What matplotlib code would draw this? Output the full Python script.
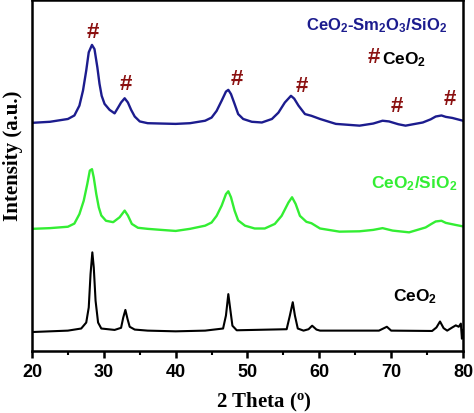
import matplotlib
matplotlib.use("Agg")
import matplotlib.pyplot as plt
from matplotlib.ticker import MultipleLocator

# points (2 theta, intensity in arbitrary units)
blue_x = [20.0, 22.5, 25.0, 25.9, 26.6, 27.1, 27.55, 27.9, 28.35, 28.7, 29.1, 29.4, 29.7, 30.1,
          30.8, 31.5, 32.0, 32.4, 32.9, 33.35, 33.8, 34.3, 35.0, 36.1, 38.0, 40.0, 42.0,
          44.1, 45.0, 45.7, 46.4, 47.0, 47.33, 47.7, 48.2, 48.7, 49.4, 50.6, 52.0, 53.4, 54.3,
          55.2, 56.05, 56.5, 57.1, 58.0, 58.9, 60.1, 62.3, 65.6, 67.5, 68.8, 69.7, 71.0, 72.0,
          74.4, 75.5, 76.2, 77.0, 77.6, 78.5, 80.0]
blue_y = [65.0, 65.3, 66.1, 67.1, 69.9, 74.2, 79.9, 85.1, 87.2, 86.0, 80.8, 76.1, 72.7, 70.4,
          68.7, 67.7, 69.4, 70.8, 72.0, 70.8, 68.7, 66.8, 65.4, 64.9, 64.8, 64.7, 64.9,
          65.6, 66.5, 68.4, 71.3, 73.9, 74.4, 73.2, 70.4, 67.5, 66.1, 65.3, 65.1, 66.1, 67.9,
          70.8, 72.7, 71.9, 69.9, 67.5, 67.0, 66.1, 64.7, 64.2, 64.8, 65.6, 65.4, 64.6, 64.2,
          65.1, 66.0, 66.8, 67.1, 66.7, 66.4, 65.6]

green_x = [20.0, 22.5, 25.0, 25.9, 26.6, 27.2, 27.7, 28.05, 28.35, 28.6, 28.95, 29.3, 29.65, 30.3,
           31.3, 32.2, 32.9, 33.35, 33.9, 34.75, 36.1, 38.0, 40.0, 42.0,
           44.1, 45.0, 45.7, 46.4, 47.0, 47.33, 47.7, 48.2, 48.7, 49.65, 51.0, 52.4, 53.8, 54.75,
           55.7, 56.2, 56.7, 57.3, 58.2, 58.9, 60.1, 62.8, 65.6, 67.5, 68.8, 70.2, 72.5, 74.8,
           75.6, 76.2, 77.0, 77.6, 79.0, 80.0]
green_y = [34.8, 35.0, 35.4, 36.3, 39.0, 42.8, 47.6, 51.4, 51.8, 49.4, 44.7, 40.9, 38.6, 37.1,
           36.7, 38.1, 40.0, 38.6, 36.2, 35.1, 34.8, 34.5, 34.2, 34.8,
           35.7, 36.6, 38.5, 41.4, 44.7, 45.5, 43.8, 40.0, 37.2, 35.7, 34.9, 34.9, 36.2, 38.5,
           42.3, 43.8, 41.9, 38.5, 36.8, 36.4, 34.9, 34.0, 34.1, 34.5, 35.0, 34.3, 33.8, 35.2,
           36.2, 36.9, 37.1, 36.5, 35.9, 35.5]

black_x = [20.0, 25.0, 26.85, 27.55, 27.9, 28.15, 28.4, 28.6, 28.85, 29.2, 29.65, 31.5, 32.4, 32.7,
           33.0, 33.3, 33.6, 34.3, 36.1, 40.0, 44.1, 46.6, 47.0, 47.33, 47.6, 47.9, 48.5,
           55.45, 55.9, 56.3, 56.6, 57.0, 57.8, 58.5, 59.0, 59.6, 60.1, 68.3, 68.9, 69.4, 70.0,
           75.7, 76.3, 76.8, 77.3, 77.8, 78.5, 79.0, 79.4, 79.7, 79.85, 80.0]
black_y = [5.4, 5.8, 6.4, 8.1, 12.4, 21.9, 28.1, 23.8, 14.3, 8.1, 6.4, 6.0, 6.6, 9.5,
           11.7, 9.1, 6.9, 6.1, 5.8, 5.6, 5.8, 6.4, 10.1, 16.2, 11.9, 7.2, 5.9,
           6.2, 10.1, 13.9, 10.1, 6.4, 5.8, 6.2, 7.2, 6.1, 5.8, 5.8, 6.4, 6.9, 5.8,
           5.7, 6.7, 8.4, 6.5, 5.8, 6.7, 7.3, 6.9, 7.8, 3.5, 6.0]

hash_x = [28.5, 33.0, 48.5, 57.6, 70.8, 78.2]
hash_y = [90.9, 76.1, 77.5, 75.5, 69.8, 71.8]

blue = "#1c1c8e"
green = "#33ee33"
hash_red = "#8b1111"

plt.rcParams["font.family"] = "Liberation Sans"
plt.rcParams["font.weight"] = "bold"

fig = plt.figure(figsize=(4.74, 4.14), dpi=100)
ax = fig.add_axes([0.0675, 0.1498, 0.9093, 0.8478])

ax.plot(blue_x, blue_y, color=blue, lw=1.7)
ax.plot(green_x, green_y, color=green, lw=1.7)
ax.plot(black_x, black_y, color="black", lw=1.5)

for hx, hy in zip(hash_x, hash_y):
    ax.text(hx, hy, "#", color=hash_red, fontsize=16, fontweight="bold", ha="center", va="center")

ax.text(68.0, 92.9, r"CeO$\mathregular{_2}$-Sm$\mathregular{_2}$O$\mathregular{_3}$/SiO$\mathregular{_2}$",
        color=blue, fontsize=12, fontweight="bold", ha="center", va="center")
ax.text(67.6, 83.8, "#", color=hash_red, fontsize=16, fontweight="bold", ha="center", va="center")
ax.text(68.7, 83.3, r"CeO$\mathregular{_2}$", color="black", fontsize=12.5, fontweight="bold",
        ha="left", va="center")
ax.text(73.2, 48.1, r"CeO$\mathregular{_2}$/SiO$\mathregular{_2}$", color=green, fontsize=12.5,
        fontweight="bold", ha="center", va="center")
ax.text(73.3, 15.8, r"CeO$\mathregular{_2}$", color="black", fontsize=12.5, fontweight="bold",
        ha="center", va="center")

ax.set_xlim(20, 80)
ax.set_ylim(0, 100)
ax.xaxis.set_major_locator(MultipleLocator(10))
ax.xaxis.set_minor_locator(MultipleLocator(5))
ax.set_yticks([])
ax.tick_params(axis="x", which="major", direction="out", length=5, width=1.8, labelsize=13, pad=4)
ax.tick_params(axis="x", which="minor", direction="out", length=3, width=1.5)
for lab in ax.get_xticklabels():
    lab.set_fontweight("bold")
for sp in ax.spines.values():
    sp.set_linewidth(1.8)

ax.set_xlabel(r"2 Theta ($\mathregular{^o}$)", fontsize=15, fontweight="bold", family="Liberation Serif")
ax.xaxis.set_label_coords(0.538, -0.11)
ax.set_ylabel("Intensity (a.u.)", fontsize=15, fontweight="bold", family="Liberation Serif")
ax.yaxis.set_label_coords(-0.021, 0.558)

fig.savefig("out.png", dpi=100)
